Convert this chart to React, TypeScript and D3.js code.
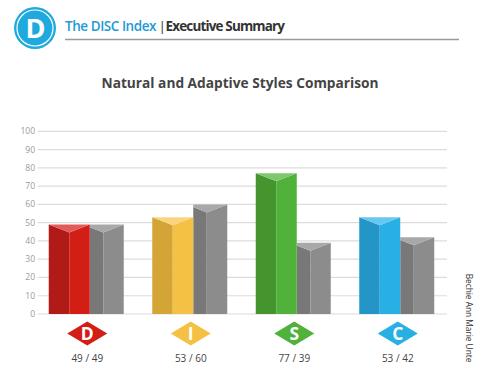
import React from 'react';
import * as d3 from 'd3';

const styles = ['D', 'I', 'S', 'C'];
const naturalValues = [49, 53, 77, 53];
const adaptiveValues = [49, 60, 39, 42];
const yTicks = [0, 10, 20, 30, 40, 50, 60, 70, 80, 90, 100];

// dark face, light face, top
const styleColors = [
  ['#b01a17', '#d31e16', '#e15b5a'],
  ['#d3a537', '#f5c144', '#f8d57c'],
  ['#45952f', '#50b13b', '#7ec76d'],
  ['#2395c7', '#28afe4', '#66c8ef'],
];
const greyColors = ['#787878', '#8c8c8c', '#a8a8a8'];

const W = 480;
const H = 374;
const FONT = '"Open Sans", "Noto Sans", sans-serif';

const App = () => {
  const y = d3.scaleLinear().domain([0, 100]).range([314, 131.3]);
  const x = d3.scaleBand().domain(styles).range([35, 449]);
  const natW = 41;
  const greyW = 34;
  const depth = 8;
  const base = y(0);

  const prism = (left: number, right: number, v: number, clipLeft: number, cols: string[]) => {
    const yv = y(v);
    const xc = (left + right) / 2;
    const half = (right - left) / 2;
    const frac = (clipLeft - left) / half;
    const yl = yv + depth * frac;
    const top = [[clipLeft, yv], [right, yv], [xc, yv + depth], [clipLeft, yl]];
    const lf = [[clipLeft, yl], [xc, yv + depth], [xc, base], [clipLeft, base]];
    const rf = [[xc, yv + depth], [right, yv], [right, base], [xc, base]];
    const p = (pts: number[][]) => pts.map((d) => d.join(',')).join(' ');
    return (
      <g>
        <polygon points={p(lf)} fill={cols[0]} />
        <polygon points={p(rf)} fill={cols[1]} />
        <polygon points={p(top)} fill={cols[2]} />
      </g>
    );
  };

  return (
    <svg width={W} height={H} style={{ position: 'absolute', left: 0, top: 0 }}>
      <rect width={W} height={H} fill="#fff" />
      {/* header */}
      <circle cx={35} cy={28} r={21} fill="#1eaadf" />
      <circle cx={35} cy={28} r={18} fill="none" stroke="#fff" strokeWidth={1.2} />
      <text x={35.5} y={37.5} textAnchor="middle" fill="#fff" fontFamily={FONT} fontWeight={700} fontSize={27}>D</text>
      <text y={30.7} fontFamily={FONT} fontSize={13.5}>
        <tspan x={65} fontWeight={600} fill="#1e9ad6" letterSpacing={-0.45}>The DISC Index</tspan>
        <tspan x={158.5} fill="#333" fontWeight={400}>|</tspan>
        <tspan x={165.5} fontWeight={700} fill="#333" letterSpacing={-0.85}>Executive Summary</tspan>
      </text>
      <line x1={65} x2={459} y1={39.5} y2={39.5} stroke="#9a9a9a" strokeWidth={1.5} />

      <text x={240} y={88} textAnchor="middle" fontFamily={FONT} fontSize={14.5} fontWeight={700} fill="#444"
        textLength={277} lengthAdjust="spacingAndGlyphs">
        Natural and Adaptive Styles Comparison
      </text>

      {/* grid */}
      {yTicks.map((t) => (
        <g key={t}>
          <line x1={37.7} x2={447} y1={y(t)} y2={y(t)} stroke="#dcdcdc" strokeWidth={1.2} />
          <text x={35} y={y(t) + 3} textAnchor="end" fontFamily={FONT} fontSize={8.5} fill="#9a9a9a">{t}</text>
        </g>
      ))}

      {/* bars */}
      {styles.map((s, i) => {
        const c = (x(s) as number) + x.bandwidth() / 2;
        const nl = c - 38;
        const nr = nl + natW;
        const gl = nr + greyW - natW;
        return (
          <g key={s}>
            {prism(gl, nr + greyW, adaptiveValues[i], nr, greyColors)}
            {prism(nl, nr, naturalValues[i], nl, styleColors[i])}
            <polygon
              points={`${c - 19.5},${333.5} ${c + 0.5},${321.5} ${c + 20.5},${333.5} ${c + 0.5},${345.5}`}
              fill={styleColors[i][1]}
            />
            <text x={c + 0.5} y={339.8} textAnchor="middle" fontFamily={FONT} fontWeight={700} fontSize={17.5} fill="#fff">{s}</text>
            <text x={c + 0.5} y={362} textAnchor="middle" fontFamily={FONT} fontSize={10} fill="#444">
              {`${naturalValues[i]} / ${adaptiveValues[i]}`}
            </text>
          </g>
        );
      })}

      <text
        transform="translate(466,318) rotate(90)"
        textAnchor="middle"
        fontFamily={FONT}
        fontSize={8.3}
        fill="#333"
      >
        Bechie Ann Marie Unte
      </text>
    </svg>
  );
};

export default App;
